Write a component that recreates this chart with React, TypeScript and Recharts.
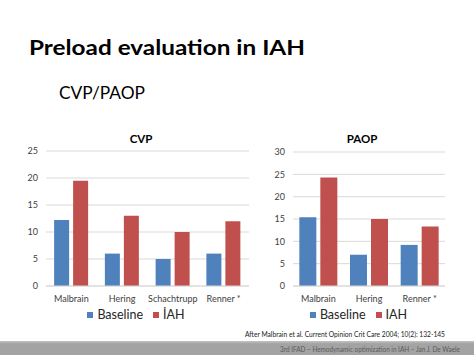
import React from 'react';
import { BarChart, Bar, XAxis, YAxis, CartesianGrid, Legend } from 'recharts';

const cvpCategories = ['Malbrain', 'Hering', 'Schachtrupp', 'Renner *'];
const cvpBaseline = [12.2, 6, 5, 6];
const cvpIah = [19.5, 13, 10, 12];
const cvpTicks = [0, 5, 10, 15, 20, 25];

const paopCategories = ['Malbrain', 'Hering', 'Renner *'];
const paopBaseline = [15.4, 7, 9.2];
const paopIah = [24.3, 15, 13.3];
const paopTicks = [0, 5, 10, 15, 20, 25, 30];

const BLUE = '#4F81BD';
const RED = '#C0504D';
const FONT = 'Lato, "Open Sans", sans-serif';

const cvpData = cvpCategories.map((name, i) => ({ name, baseline: cvpBaseline[i], iah: cvpIah[i] }));
const paopData = paopCategories.map((name, i) => ({ name, baseline: paopBaseline[i], iah: paopIah[i] }));

const tickStyle = { fontSize: 9, fill: '#404040', fontFamily: FONT };

const legendFormatter = (value: string) => (
  <span style={{ color: '#262626', fontSize: 12.5, fontFamily: FONT }}>{value}</span>
);

export default function App() {
  return (
    <div style={{ position: 'fixed', left: 0, top: 0, width: 474, height: 355, background: '#fff', overflow: 'hidden', fontFamily: FONT }}>
      <div style={{ position: 'absolute', left: 0, top: 120 }}>
        <BarChart width={260} height={200} data={cvpData} margin={{ top: 31, right: 11, left: 0, bottom: 14 }} barCategoryGap="16%" barGap={4}>
          <CartesianGrid vertical={false} stroke="#D9D9D9" />
          <XAxis dataKey="name" tick={tickStyle} tickLine={false} axisLine={{ stroke: '#D9D9D9' }} height={20} interval={0} tickMargin={4} />
          <YAxis domain={[0, 25]} ticks={cvpTicks} tick={tickStyle} tickLine={false} axisLine={false} width={46} interval={0} />
          <Legend verticalAlign="middle" layout="horizontal" align="center" iconType="square" iconSize={6} formatter={legendFormatter}
            wrapperStyle={{ left: 0, top: 185, width: 282, lineHeight: '16px' }} />
          <Bar dataKey="baseline" name="Baseline" fill={BLUE} isAnimationActive={false} />
          <Bar dataKey="iah" name="İAH" fill={RED} isAnimationActive={false} />
        </BarChart>
      </div>
      <div style={{ position: 'absolute', left: 260, top: 120 }}>
        <BarChart width={214} height={200} data={paopData} margin={{ top: 32, right: 29, left: 0, bottom: 14 }} barCategoryGap="12.5%" barGap={4}>
          <CartesianGrid vertical={false} stroke="#D9D9D9" />
          <XAxis dataKey="name" tick={tickStyle} tickLine={false} axisLine={{ stroke: '#D9D9D9' }} height={20} interval={0} tickMargin={4} />
          <YAxis domain={[0, 30]} ticks={paopTicks} tick={tickStyle} tickLine={false} axisLine={false} width={33} interval={0} />
          <Legend verticalAlign="middle" layout="horizontal" align="center" iconType="square" iconSize={6} formatter={legendFormatter}
            wrapperStyle={{ left: 0, top: 185, width: 207, lineHeight: '16px' }} />
          <Bar dataKey="baseline" name="Baseline" fill={BLUE} isAnimationActive={false} />
          <Bar dataKey="iah" name="IAH" fill={RED} isAnimationActive={false} />
        </BarChart>
      </div>
      <div style={{ position: 'absolute', left: 0, top: 341, width: 474, height: 14, background: 'linear-gradient(#c4c4c4, #a3a3a3 20%, #a3a3a3)' }} />
      <svg width={474} height={355} style={{ position: 'absolute', left: 0, top: 0, pointerEvents: 'none' }}>
        <text x={29} y={55} fontFamily={FONT} fontWeight={700} fontSize={21.5} fill="#000" textLength={276} lengthAdjust="spacingAndGlyphs">Preload evaluation in IAH</text>
        <text x={59} y={99} fontFamily={FONT} fontSize={18} fill="#000" textLength={86} lengthAdjust="spacingAndGlyphs">CVP/PAOP</text>
        <text x={141} y={143} textAnchor="middle" fontFamily={FONT} fontWeight={700} fontSize={11.5} fill="#000">CVP</text>
        <text x={362} y={143} textAnchor="middle" fontFamily={FONT} fontWeight={700} fontSize={11.5} fill="#000">PAOP</text>
        <text x={245} y={336.5} fontFamily={FONT} fontSize={6.8} fill="#222" textLength={200} lengthAdjust="spacingAndGlyphs">After Malbrain et al. Current Opinion Crit Care 2004; 10(2): 132-145</text>
        <text x={280} y={351.5} fontFamily={FONT} fontSize={6.8} fill="#5a5a5a" textLength={180} lengthAdjust="spacingAndGlyphs">3rd IFAD – Hemodynamic optimization in IAH – Jan J. De Waele</text>
      </svg>
    </div>
  );
}
